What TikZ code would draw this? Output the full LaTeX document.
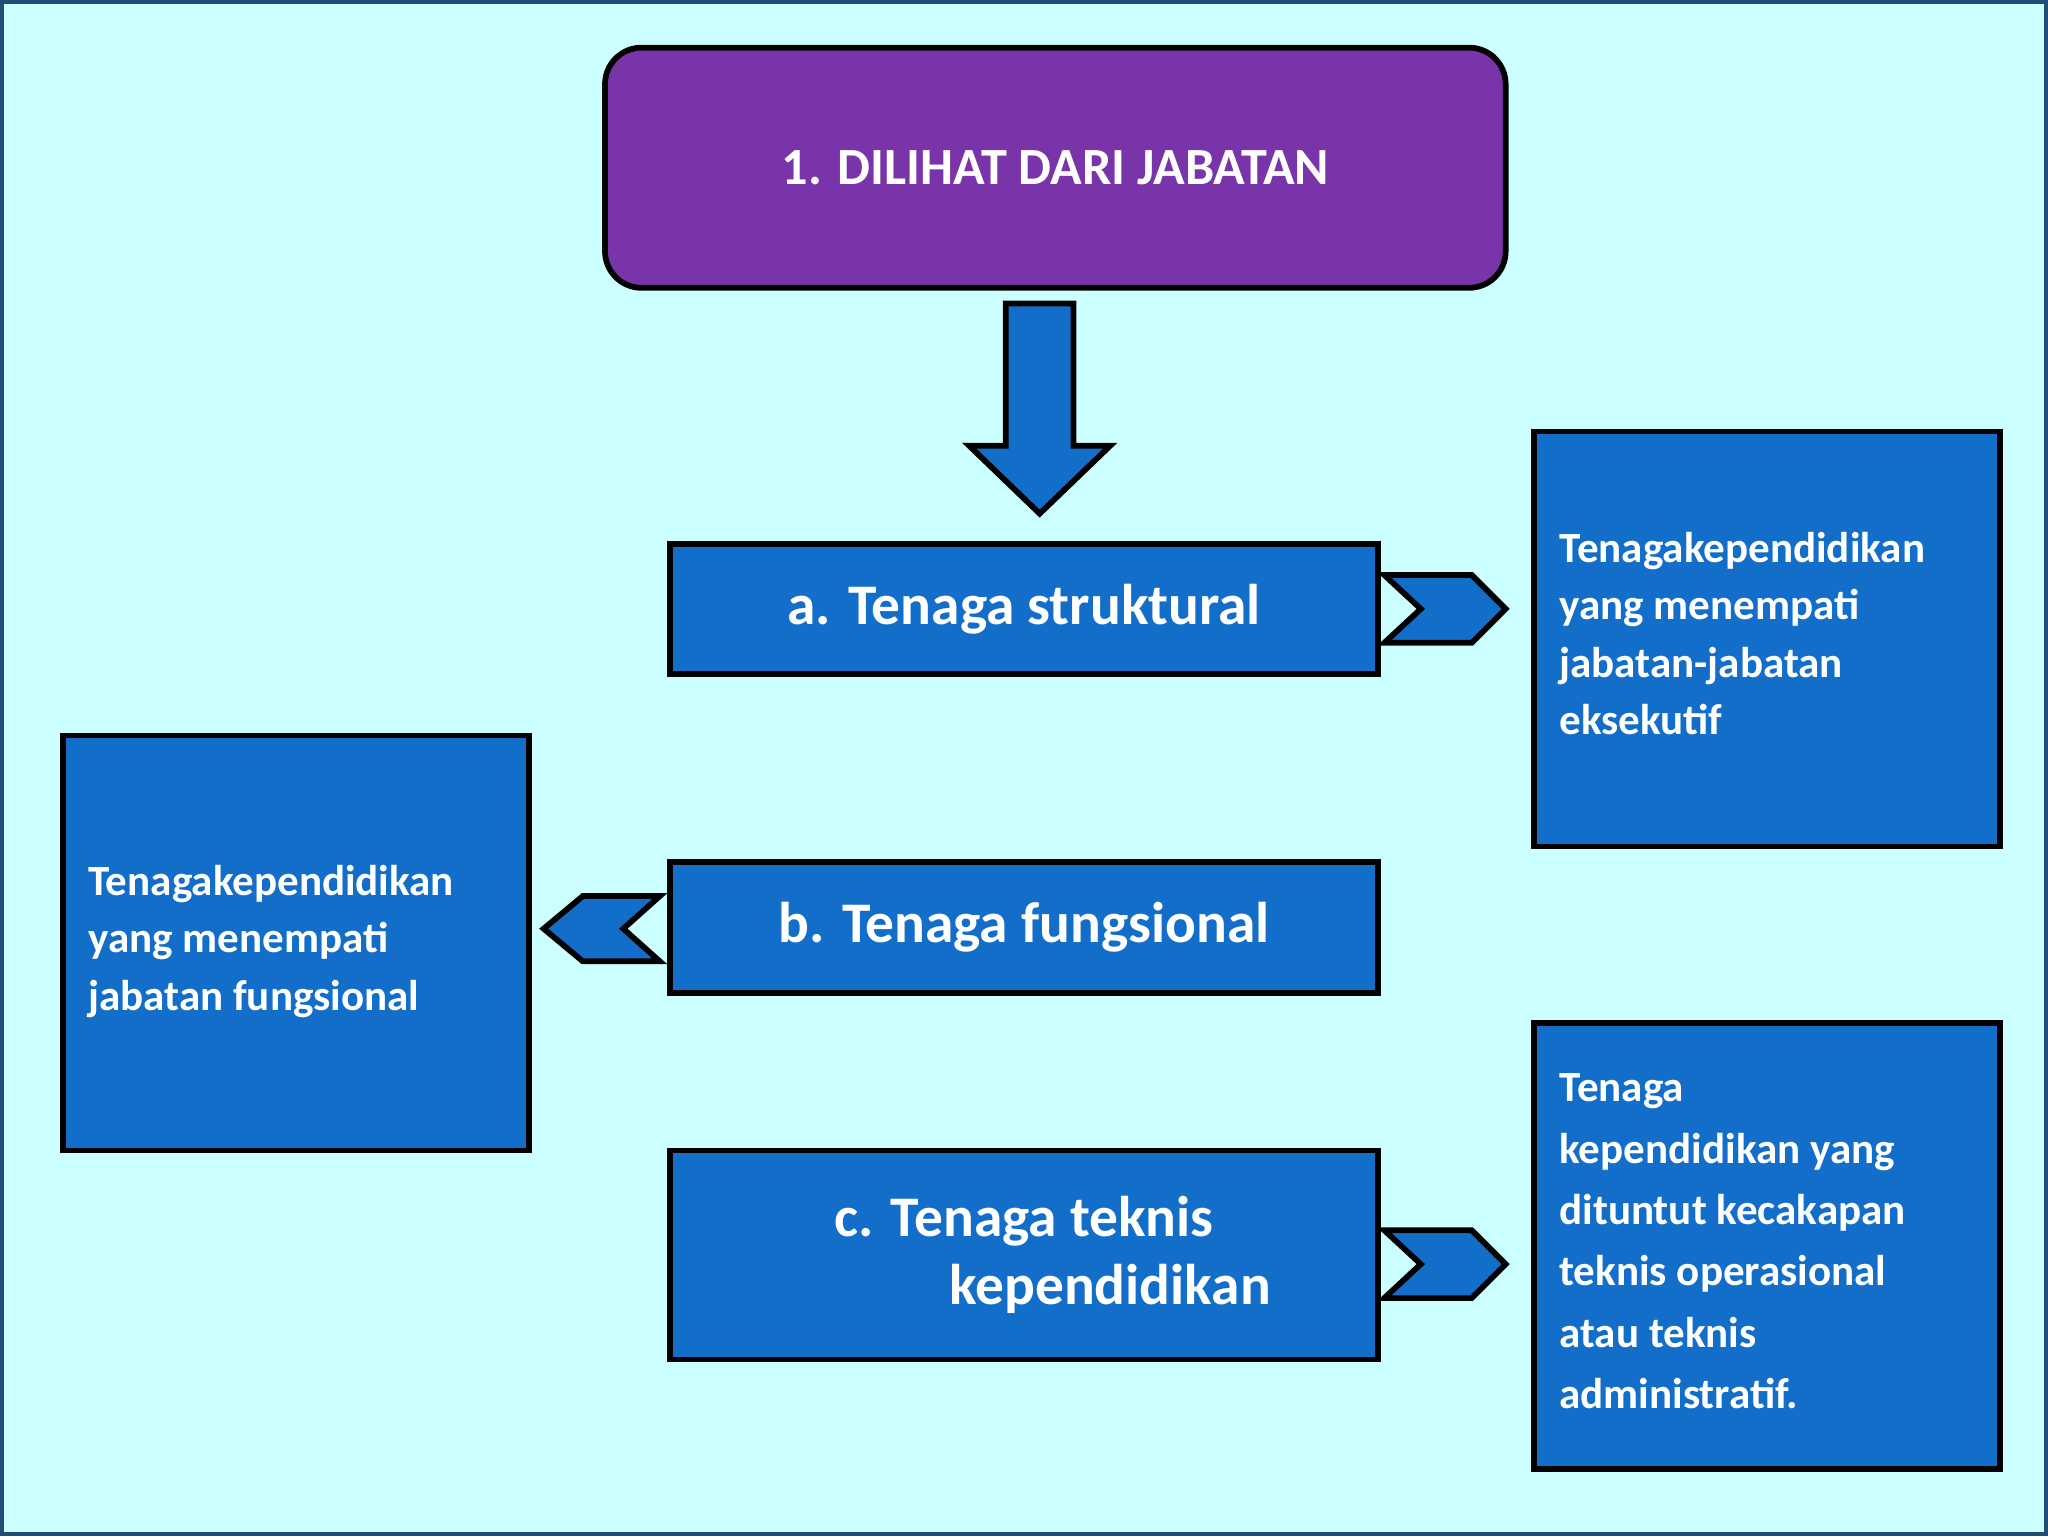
\documentclass[tikz,border=0pt]{standalone}
\usepackage{fontspec}
\setmainfont{Carlito}
\usetikzlibrary{positioning}
\definecolor{bgcyan}{RGB}{204,255,255}
\definecolor{frameblue}{RGB}{31,78,121}
\definecolor{boxblue}{RGB}{18,110,200}
\definecolor{titlepurple}{RGB}{122,52,170}
\begin{document}
\begin{tikzpicture}[
    x=0.5pt,y=-0.5pt,
    every path/.append style ={line width = 2.2pt,},
    mainbox/.style ={draw=black, fill=boxblue, text=white, font=\bfseries\fontsize{22}{26}\selectfont,
        minimum width=271pt, align=center},
    infobox/.style ={draw=black, fill=boxblue, text=white, font=\bfseries\fontsize{16.5}{22}\selectfont,
        minimum width=178.5pt, minimum height=159pt, align=left, text width=162pt, inner sep=0pt},
    chev/.style ={draw=black, fill=boxblue, line join=miter},
]
    % background
    \draw [fill=bgcyan, draw=frameblue, line width=1.5pt] (1,1) rectangle (1567,1175);

    % title
    \node [draw=black, fill=titlepurple, rounded corners=14pt, text=white,
        font=\bfseries\fontsize{20}{24}\selectfont, minimum width=345pt, minimum height=92pt]
        (title) at (808,128) {1. DILIHAT DARI JABATAN};

    % down arrow
    \draw [fill=boxblue] (770,232) -- (822,232) -- (822,341) -- (850,341) -- (796,393)
        -- (742,341) -- (770,341) -- cycle;

    % main boxes
    \node [mainbox, minimum height=50pt] (strukt) at (784,466) {a. Tenaga struktural};
    \node [mainbox, minimum height=50pt] (fungs)  at (784,710) {b. Tenaga fungsional};
    \node [mainbox, minimum height=80pt] (teknis) at (784,961)
        {c. Tenaga teknis\\\hspace*{3em}kependidikan};

    % description boxes
    \node [infobox] (descA) at (1353,489) {};
    \node [anchor=north west, text=white, font=\bfseries\fontsize{16.5}{22}\selectfont, align=left,
        inner sep=0pt] (txtA) at (1192,405)
        {Tenagakependidikan\\yang menempati\\jabatan-jabatan\\eksekutif};
    \node [infobox] (descB) at (226,722) {};
    \node [anchor=north west, text=white, font=\bfseries\fontsize{16.5}{22}\selectfont, align=left,
        inner sep=0pt] (txtB) at (65,660)
        {Tenagakependidikan\\yang menempati\\jabatan fungsional};
    \node [infobox, minimum height=171pt] (descC) at (1353,954) {};
    \node [anchor=north west, text=white, font=\bfseries\fontsize{16.5}{23.5}\selectfont, align=left,
        inner sep=0pt] (txtC) at (1192,820)
        {Tenaga\\kependidikan yang\\dituntut kecakapan\\teknis operasional\\atau teknis\\administratif.};

    % chevrons
    \draw [chev] (1060,440) -- (1127,440) -- (1153,466) -- (1127,492) -- (1060,492) -- (1088,466) -- cycle;
    \draw [chev] (505,686) -- (446,686) -- (416,711) -- (446,736) -- (505,736) -- (477,711) -- cycle;
    \draw [chev] (1060,942) -- (1127,942) -- (1153,968) -- (1127,994) -- (1060,994) -- (1088,968) -- cycle;
\end{tikzpicture}
\end{document}
